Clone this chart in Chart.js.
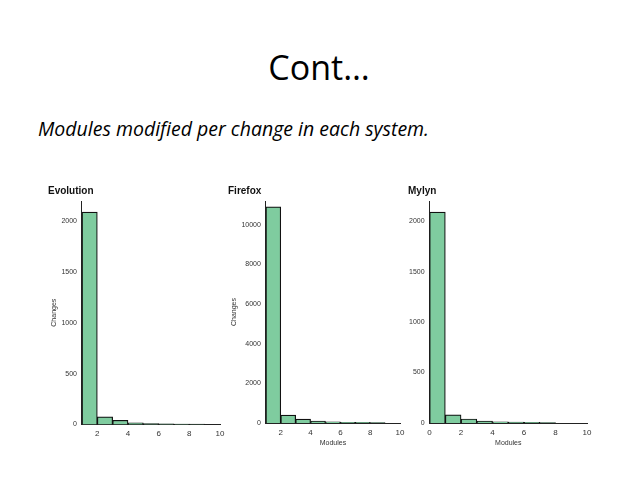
<!DOCTYPE html>
<html><head><meta charset="utf-8">
<script src="https://cdn.jsdelivr.net/npm/chart.js@4"></script>
<style>
body{margin:0;width:638px;height:479px;background:#fff;position:relative;overflow:hidden;font-family:"Open Sans",sans-serif}
#t{position:absolute;top:44px;left:0;width:638px;text-align:center;font-size:34px;color:#000}
#s{position:absolute;top:115px;left:38px;font-size:19.5px;font-style:italic;color:#000}
.c{position:absolute}
</style></head><body>
<div id="t">Cont…</div>
<div id="s">Modules modified per change in each system.</div>
<div class="c" style="left:48px;top:185px;width:180px;height:255px"><canvas id="c1"></canvas></div>
<div class="c" style="left:228px;top:185px;width:180px;height:262px"><canvas id="c2"></canvas></div>
<div class="c" style="left:408px;top:185px;width:187px;height:262px"><canvas id="c3"></canvas></div>
<script>
const evoX=[1.5,2.5,3.5,4.5,5.5,6.5,7.5,8.5];
const evoY=[2090,75,40,15,8,5,4,3];
const ffX=[1.5,2.5,3.5,4.5,5.5,6.5,7.5,8.5];
const ffY=[10900,400,200,100,60,40,30,20];
const myX=[0.5,1.5,2.5,3.5,4.5,5.5,6.5,7.5];
const myY=[2090,80,40,20,12,8,6,4];
const xTicks=[0,2,4,6,8,10];
const evoYTicks=[0,500,1000,1500,2000];
const ffYTicks=[0,2000,4000,6000,8000,10000];
const myYTicks=[0,500,1000,1500,2000];
function mk(id,title,xs,ys,xmin,ymax,yt,ytitle,xtitle){
  new Chart(document.getElementById(id),{type:'bar',
    data:{datasets:[{data:xs.map((x,i)=>({x:x,y:ys[i]})),backgroundColor:'#7fcc9f',borderColor:'#111',borderWidth:1.2,barPercentage:1,categoryPercentage:1}]},
    options:{responsive:true,maintainAspectRatio:false,animation:false,
      layout:{padding:{right:8}},
      plugins:{legend:{display:false},tooltip:{enabled:false},
        title:{display:true,text:title,align:'start',font:{size:10,weight:'bold',family:'Liberation Sans Narrow, Liberation Sans'},color:'#111',padding:{top:0,bottom:4}}},
      scales:{
        x:{type:'linear',min:xmin,max:10,offset:false,grid:{display:false,tickLength:4},border:{color:'#222'},
          afterBuildTicks:a=>{a.ticks=xTicks.filter(v=>v>=xmin).map(v=>({value:v}))},
          ticks:{font:{size:8},color:'#333',maxRotation:0,padding:1},
          title:{display:!!xtitle,text:xtitle,font:{size:7},color:'#333',padding:0}},
        y:{min:0,max:ymax,grid:{display:false,tickLength:4},border:{color:'#222'},
          afterBuildTicks:a=>{a.ticks=yt.map(v=>({value:v}))},
          ticks:{font:{size:7},color:'#333',padding:1,callback:v=>String(v)},
          title:{display:!!ytitle,text:ytitle,font:{size:7},color:'#333',padding:2}}
      }}});
}
mk('c1','Evolution',evoX,evoY,1,2200,evoYTicks,'Changes','');
mk('c2','Firefox',ffX,ffY,1,11200,ffYTicks,'Changes','Modules');
mk('c3','Mylyn',myX,myY,0,2200,myYTicks,'','Modules');
</script></body></html>
